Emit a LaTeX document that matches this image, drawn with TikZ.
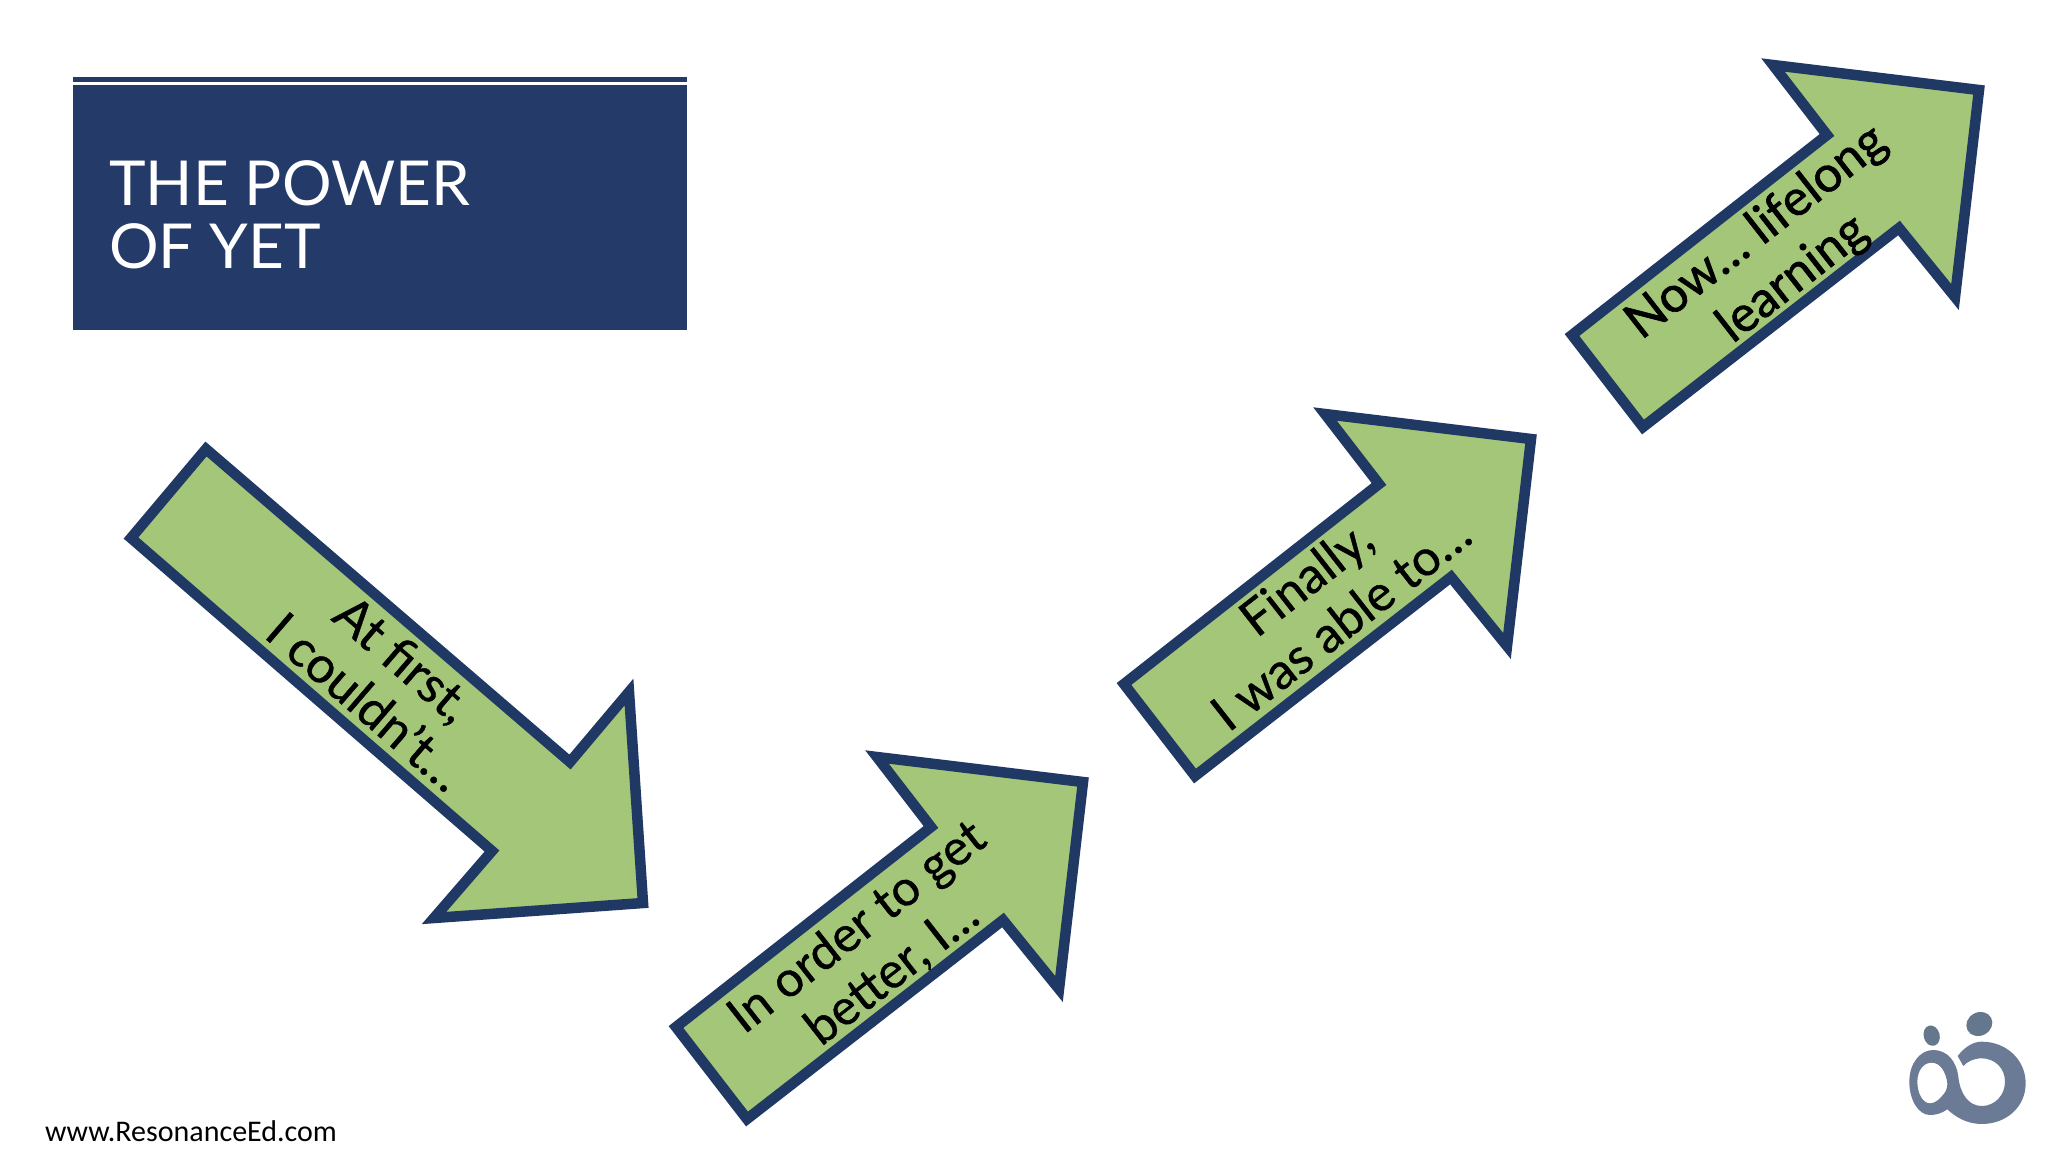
\documentclass[tikz,border=0pt]{standalone}
\usepackage{fontspec}
\setmainfont{Lato}
\newfontfamily\footfont{Carlito}
\newfontfamily\labelfont{Lato}[FakeBold=0.7]
\newfontfamily\strongfont{Lato}[FakeBold=1.3]
\definecolor{navy}{HTML}{243A69}
\definecolor{edgeblue}{HTML}{1F3864}
\definecolor{leaf}{HTML}{A3C678}
\definecolor{logoband}{HTML}{6C7B95}
\definecolor{logodot}{HTML}{64778D}
\tikzset{
  arrowshape/.style={draw=edgeblue,fill=leaf,line width=10.5pt,line join=miter,miter limit=10},
  arrowtext/.style={text=black,align=center,inner sep=0pt,font=\labelfont\fontsize{#1}{57}\selectfont},
  strongtext/.style={text=black,align=center,inner sep=0pt,font=\strongfont\fontsize{#1}{59}\selectfont},
  titletext/.style={text=white,align=left,anchor=base west,inner sep=0pt,font=\fontsize{62}{64}\selectfont},
  foottext/.style={text=black,anchor=base west,inner sep=0pt,font=\footfont\fontsize{30}{32}\selectfont}
}
\newcommand{\uparrowpath}{(1572,335) -- (1643,427) -- (1899,228) -- (1955,297) -- (1979,90) -- (1773,65) -- (1827,135) -- cycle}
\begin{document}
\begin{tikzpicture}[x=1pt,y=-1pt]
\useasboundingbox (0,0) rectangle (2048,1152);
\fill[white] (0,0) rectangle (2048,1152);
% title block
\fill[navy] (73,77) rectangle (687,81.5);
\fill[navy] (73,84.5) rectangle (687,329.5);
\node[titletext] (titleA) at (109,205) {THE POWER};
\node[titletext] (titleB) at (109,268) {OF YET};
% arrows
\draw[arrowshape] (206,449) -- (131,538) -- (492,851) -- (434,918) -- (643,903) -- (629,692) -- (570,762) -- cycle;
\draw[arrowshape,shift={(-896,692)}] \uparrowpath;
\draw[arrowshape,shift={(-448,349)}] \uparrowpath;
\draw[arrowshape] \uparrowpath;
% labels
\node[arrowtext=50.5,rotate=-40.7] (first) at (385,680) {At first,\\I couldn’t…};
\node[arrowtext=49.5,rotate=38] (second) at (875,950) {In order to get\\better, I…};
\node[arrowtext=50,rotate=38] (third) at (1323,600) {Finally,\\I was able to…};
\node[strongtext=50,rotate=38] (fourth) at (1775,256) {Now… lifelong\\learning};
\node[foottext] (foot) at (45,1141) {www.ResonanceEd.com};
% logo
\begin{scope}[shift={(1860,980)},x=0.3333pt,y=-0.3333pt]
\fill[logodot,rotate around={28:(358,132)}] (358,132) ellipse [x radius=40,y radius=35];
\fill[logodot,rotate around={15:(215,167)}] (215,167) ellipse [x radius=24,y radius=31];
\fill[logoband,even odd rule]
  (293,228) .. controls (315,200) and (340,185) .. (365,185)
  .. controls (440,185) and (497,240) .. (497,310)
  .. controls (497,380) and (440,432) .. (365,432)
  .. controls (320,432) and (285,410) .. (262,388)
  .. controls (245,400) and (228,405) .. (210,405)
  .. controls (175,405) and (148,360) .. (148,305)
  .. controls (148,250) and (180,210) .. (220,210)
  .. controls (262,210) and (290,245) .. (295,290)
  .. controls (300,340) and (325,378) .. (365,378)
  .. controls (405,378) and (435,345) .. (435,305)
  .. controls (435,265) and (405,235) .. (365,235)
  .. controls (340,235) and (322,245) .. (310,258) -- cycle
  (172,305) .. controls (172,272) and (190,248) .. (215,248)
  .. controls (240,248) and (258,275) .. (262,310)
  .. controls (263,325) and (256,338) .. (247,347)
  .. controls (235,362) and (222,370) .. (210,370)
  .. controls (188,370) and (172,340) .. (172,305) -- cycle;
\end{scope}
\end{tikzpicture}
\end{document}
